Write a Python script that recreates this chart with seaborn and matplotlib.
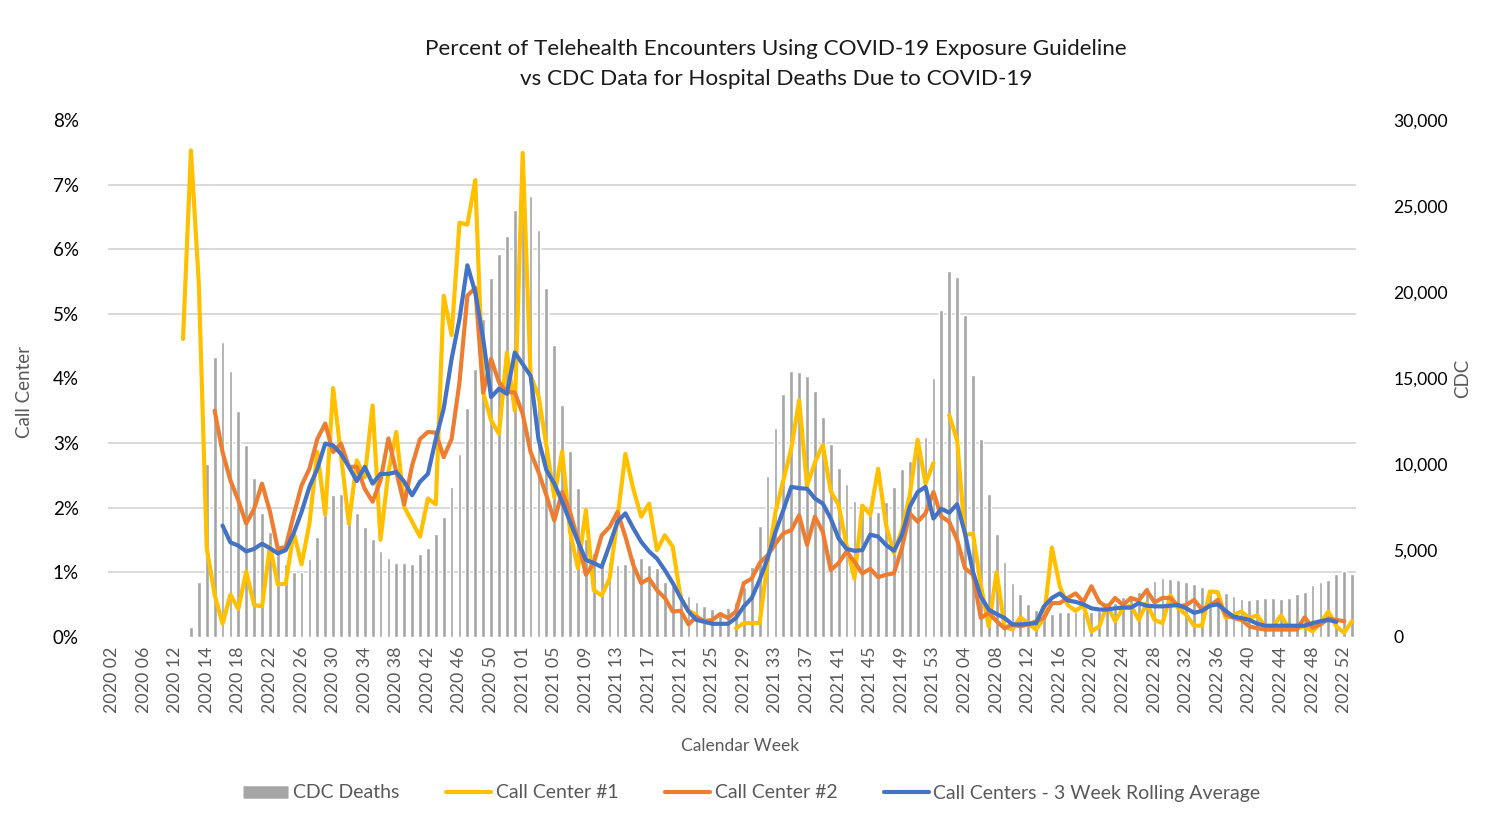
import numpy as np
import pandas as pd
import matplotlib
matplotlib.use('Agg')
import matplotlib.pyplot as plt
from matplotlib.lines import Line2D
from matplotlib.ticker import MultipleLocator, FuncFormatter
import seaborn as sns

nan = np.nan

# x-axis labels, one every 4th week
tick_labels = ['2020 02', '2020 06', '2020 12', '2020 14', '2020 18', '2020 22', '2020 26',
               '2020 30', '2020 34', '2020 38', '2020 42', '2020 46', '2020 50',
               '2021 01', '2021 05', '2021 09', '2021 13', '2021 17', '2021 21', '2021 25',
               '2021 29', '2021 33', '2021 37', '2021 41', '2021 45', '2021 49', '2021 53',
               '2022 04', '2022 08', '2022 12', '2022 16', '2022 20', '2022 24', '2022 28',
               '2022 32', '2022 36', '2022 40', '2022 44', '2022 48', '2022 52']

# weekly CDC hospital deaths (right axis)
cdc_deaths = [0, 0, 0, 0, 0, 0, 0, 0, 0, 0,
              560, 3200, 10050, 16230, 17100, 15420, 13100, 11140, 9190, 7200,
              6100, 5300, 4210, 3780, 3780, 4500, 5770, 7060, 8220, 8260,
              6700, 7200, 6350, 5690, 4960, 4590, 4270, 4270, 4210, 4790,
              5170, 5940, 6970, 8700, 10580, 13280, 15560, 18450, 20800, 22210,
              23240, 24760, 25100, 25590, 23600, 20250, 16950, 13470, 10770, 8610,
              5670, 4840, 4440, 4360, 4170, 4250, 4560, 4560, 4170, 3980,
              3200, 2920, 2530, 2340, 2000, 1760, 1580, 1510, 1660, 1990,
              2910, 4070, 6450, 9340, 12120, 14090, 15420, 15360, 15130, 14260,
              12760, 11160, 9800, 8880, 7890, 7550, 7060, 7260, 7840, 8720,
              9710, 10210, 10730, 11600, 15040, 18970, 21210, 20860, 18680, 15210,
              11500, 8260, 5980, 4360, 3110, 2470, 1890, 1540, 1310, 1310,
              1410, 1430, 1450, 1440, 1460, 1480, 1560, 1950, 2280, 2280,
              2590, 2910, 3240, 3400, 3340, 3280, 3170, 3050, 2910, 2700,
              2530, 2530, 2340, 2180, 2120, 2160, 2240, 2240, 2200, 2240,
              2470, 2590, 2990, 3170, 3280, 3650, 3820, 3630]

# percent of encounters (left axis)
call_center_1 = [nan, nan, nan, nan, nan, nan, nan, nan, nan, 4.61,
                 7.53, 5.46, 1.37, 0.65, 0.20, 0.65, 0.43, 1.01, 0.49, 0.47,
                 1.40, 0.81, 0.82, 1.62, 1.12, 1.75, 2.86, 1.89, 3.85, 2.81,
                 1.75, 2.73, 2.47, 3.58, 1.50, 2.55, 3.17, 2.01, 1.78, 1.55,
                 2.14, 2.05, 5.28, 4.67, 6.41, 6.38, 7.07, 3.78, 3.35, 3.14,
                 4.40, 3.50, 7.49, 4.04, 3.73, 2.96, 2.16, 2.87, 1.62, 1.06,
                 1.96, 0.72, 0.64, 0.90, 1.83, 2.83, 2.29, 1.86, 2.06, 1.34,
                 1.57, 1.39, 0.60, 0.40, 0.34, nan, nan, nan, nan, 0.13,
                 0.21, 0.21, 0.21, 1.16, 1.93, 2.42, 2.91, 3.66, 2.34, 2.70,
                 2.97, 2.25, 2.04, 1.42, 0.90, 2.03, 1.89, 2.60, 1.73, 1.29,
                 1.65, 2.19, 3.05, 2.37, 2.69, nan, 3.43, 3.04, 1.57, 1.60,
                 0.80, 0.16, 1.00, 0.16, 0.11, 0.30, 0.21, 0.11, 0.29, 1.38,
                 0.78, 0.49, 0.40, 0.49, 0.08, 0.16, 0.49, 0.24, 0.44, 0.48,
                 0.26, 0.52, 0.26, 0.21, 0.64, 0.44, 0.34, 0.17, 0.17, 0.70,
                 0.69, 0.29, 0.34, 0.39, 0.29, 0.33, 0.16, 0.16, 0.33, 0.13,
                 0.13, 0.16, 0.08, 0.21, 0.39, 0.16, 0.06, 0.24]

call_center_2 = [nan, nan, nan, nan, nan, nan, nan, nan, nan, nan,
                 nan, nan, nan, 3.50, 2.86, 2.42, 2.11, 1.75, 1.98, 2.37,
                 1.94, 1.36, 1.39, 1.88, 2.34, 2.60, 3.06, 3.30, 2.86, 2.99,
                 2.63, 2.63, 2.29, 2.09, 2.42, 3.07, 2.55, 2.05, 2.65, 3.06,
                 3.17, 3.16, 2.78, 3.06, 3.94, 5.28, 5.40, 3.78, 4.30, 3.94,
                 3.79, 3.78, 3.45, 2.86, 2.55, 2.19, 1.80, 2.24, 1.93, 1.50,
                 0.96, 1.14, 1.57, 1.70, 1.93, 1.55, 1.11, 0.83, 0.90, 0.72,
                 0.60, 0.39, 0.40, 0.19, 0.31, 0.24, 0.26, 0.35, 0.29, 0.39,
                 0.83, 0.90, 1.14, 1.26, 1.44, 1.60, 1.65, 1.88, 1.42, 1.86,
                 1.62, 1.03, 1.14, 1.32, 1.16, 0.98, 1.05, 0.92, 0.96, 0.98,
                 1.37, 1.91, 1.78, 1.91, 2.24, 1.86, 1.78, 1.50, 1.06, 0.96,
                 0.29, 0.37, 0.24, 0.13, 0.19, 0.16, 0.19, 0.24, 0.29, 0.52,
                 0.52, 0.60, 0.67, 0.54, 0.78, 0.54, 0.45, 0.60, 0.49, 0.60,
                 0.56, 0.72, 0.53, 0.60, 0.60, 0.47, 0.49, 0.57, 0.42, 0.48,
                 0.57, 0.34, 0.29, 0.26, 0.16, 0.13, 0.11, 0.11, 0.11, 0.11,
                 0.11, 0.30, 0.14, 0.19, 0.28, 0.26, 0.24, nan]

rolling_avg = [nan, nan, nan, nan, nan, nan, nan, nan, nan, nan,
               nan, nan, nan, nan, 1.72, 1.46, 1.41, 1.32, 1.36, 1.44,
               1.37, 1.29, 1.34, 1.60, 1.93, 2.32, 2.60, 2.99, 2.96, 2.83,
               2.63, 2.41, 2.63, 2.37, 2.52, 2.52, 2.55, 2.40, 2.19, 2.40,
               2.52, 3.06, 3.53, 4.30, 4.92, 5.75, 5.33, 4.61, 3.71, 3.84,
               3.76, 4.40, 4.22, 4.04, 3.06, 2.58, 2.37, 2.09, 1.78, 1.47,
               1.19, 1.14, 1.08, 1.42, 1.78, 1.91, 1.68, 1.47, 1.32, 1.21,
               1.03, 0.83, 0.60, 0.39, 0.26, 0.23, 0.20, 0.20, 0.20, 0.29,
               0.47, 0.60, 0.88, 1.21, 1.62, 1.96, 2.32, 2.30, 2.29, 2.14,
               2.06, 1.83, 1.52, 1.36, 1.33, 1.34, 1.58, 1.55, 1.42, 1.33,
               1.57, 2.01, 2.24, 2.32, 1.83, 1.98, 1.92, 2.05, 1.60, 1.01,
               0.62, 0.42, 0.35, 0.29, 0.19, 0.19, 0.20, 0.21, 0.47, 0.60,
               0.67, 0.56, 0.54, 0.50, 0.44, 0.42, 0.42, 0.44, 0.45, 0.45,
               0.52, 0.48, 0.47, 0.47, 0.48, 0.49, 0.44, 0.37, 0.40, 0.48,
               0.50, 0.40, 0.31, 0.29, 0.26, 0.20, 0.17, 0.17, 0.17, 0.17,
               0.17, 0.17, 0.21, 0.24, 0.26, 0.23, nan, nan]

series_names = ['Call Center #1', 'Call Center #2', 'Call Centers - 3 Week Rolling Average']
series_colors = ['#FFC000', '#ED7D31', '#4472C4']
bar_color = '#A5A5A5'

weeks = np.arange(len(cdc_deaths))

# long table for the lines; each unbroken run of values is its own unit so gaps stay open
frames = []
for name, vals in zip(series_names, [call_center_1, call_center_2, rolling_avg]):
    v = np.array(vals, dtype=float)
    seg = np.cumsum(np.isnan(v))
    d = pd.DataFrame({'week': weeks, 'pct': v, 'series': name,
                      'unit': [f'{name}_{s}' for s in seg]})
    frames.append(d.dropna())
lines_df = pd.concat(frames, ignore_index=True)

sns.set_theme(style='white')
plt.rcParams['font.family'] = ['Lato', 'DejaVu Sans']

fig = plt.figure(figsize=(14.99, 8.26), dpi=100)
L, R, T, B = 108, 1356, 120, 636.7
ax = fig.add_axes([L / 1499, 1 - B / 826, (R - L) / 1499, (B - T) / 826])
ax2 = ax.twinx()

# bars on the bottom axes (CDC scale shown on the right)
sns.barplot(x=weeks, y=cdc_deaths, native_scale=True, color=bar_color, saturation=1,
            width=0.48, errorbar=None, ax=ax, zorder=2)
ax.set_ylim(0, 30000)
ax.set_xlim(-0.5, len(weeks) - 0.5)
ax.set_yticks(np.arange(0, 30001, 5000))
ax.yaxis.set_major_formatter(FuncFormatter(lambda v, p: f'{int(v):,}'))
ax.yaxis.set_minor_locator(MultipleLocator(3750))
ax.grid(False)
ax.grid(which='minor', axis='y', color='#D9D9D9', linewidth=1.4, zorder=0)
ax.set_axisbelow(True)
ax.set_xticks(weeks[::4])
ax.set_xticklabels(tick_labels, rotation=90, fontsize=12.8, color='#595959')
ax.tick_params(axis='x', length=0, pad=7)
ax.set_xlabel('')
ax.set_ylabel('')
for s in ax.spines.values():
    s.set_visible(False)

# lines on the twin axes (percent shown on the left)
sns.lineplot(data=lines_df, x='week', y='pct', hue='series', units='unit', estimator=None,
             hue_order=series_names, palette=series_colors, linewidth=3.0, sort=False,
             legend=False, ax=ax2, solid_capstyle='round', solid_joinstyle='round')
ax2.set_ylim(0, 8)
ax2.set_xlim(-0.5, len(weeks) - 0.5)
ax2.set_yticks(np.arange(0, 9, 1))
ax2.yaxis.set_major_formatter(FuncFormatter(lambda v, p: f'{int(v)}%'))
ax2.grid(False)
ax2.set_xlabel('')
ax2.set_ylabel('')
for s in ax2.spines.values():
    s.set_visible(False)

# swap sides: CDC scale on the right, percent on the left
ax.yaxis.tick_right()
ax2.yaxis.tick_left()
ax.tick_params(axis='y', which='both', length=0, labelsize=12.6, pad=27,
               labelcolor='#000000', labelleft=False, labelright=True)
ax2.tick_params(axis='y', length=0, labelsize=13.5, pad=21, labelcolor='#000000',
                labelleft=True, labelright=False)

# titles
fig.text(776 / 1499, 1 - 64 / 826,
         'Percent of Telehealth Encounters Using COVID-19 Exposure Guideline\n'
         'vs CDC Data for Hospital Deaths Due to COVID-19',
         ha='center', va='center', fontsize=16.2, linespacing=1.6, color='#1a1a1a')
fig.text(25 / 1499, 1 - 392 / 826, 'Call Center', rotation=90, ha='center', va='center',
         fontsize=13.5, color='#595959')
fig.text(1463 / 1499, 1 - 378 / 826, 'CDC', rotation=90, ha='center', va='center',
         fontsize=13.5, color='#595959')
fig.text(740 / 1499, 1 - 746 / 826, 'Calendar Week', ha='center', va='center',
         fontsize=12.5, color='#595959')

handles = [Line2D([], [], color=bar_color, lw=9, solid_capstyle='butt')]
handles += [Line2D([], [], color=c, lw=3.0) for c in series_colors]
fig.legend(handles, ['CDC Deaths'] + series_names, loc='center', ncol=4,
           bbox_to_anchor=(752 / 1499, 1 - 793 / 826), frameon=False, fontsize=14,
           labelcolor='#595959', handlelength=2.3, handletextpad=0.25, columnspacing=2.4)

fig.savefig('out.png', dpi=100)
